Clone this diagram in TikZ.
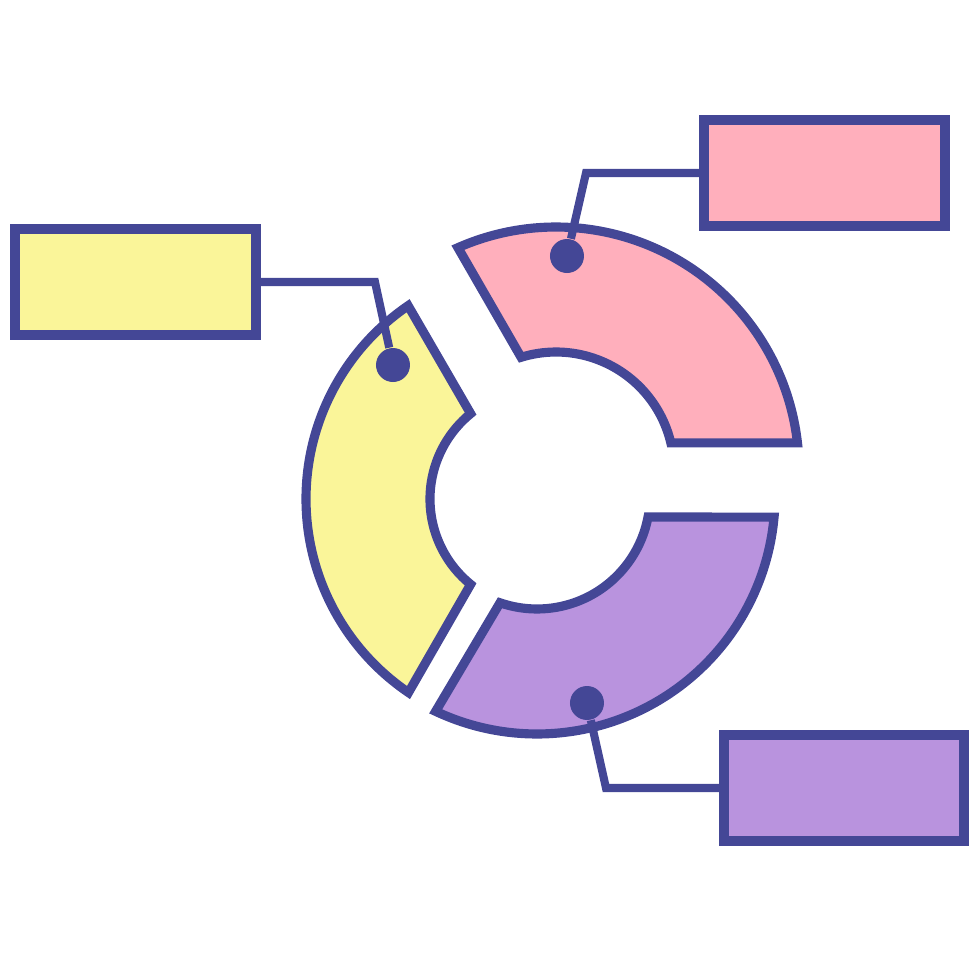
\documentclass[tikz,border=0pt]{standalone}
\definecolor{ink}{RGB}{68,71,150}
\definecolor{yellowfill}{RGB}{250,245,153}
\definecolor{pinkfill}{RGB}{255,175,188}
\definecolor{purplefill}{RGB}{185,147,222}
\tikzset{
  segment/.style={draw=ink, line width=2.6pt},
  labelbox/.style={draw=ink, line width=2.6pt, minimum width=2.41cm, minimum height=1.06cm, inner sep=0pt},
  dot/.style={circle, fill=ink, inner sep=0pt, minimum size=0.34cm},
  leader/.style={draw=ink, line width=2.3pt}
}
\begin{document}
\begin{tikzpicture}
  \useasboundingbox (0,0) rectangle (9.8,9.8);

  % centres of the three ring pieces
  \coordinate (ycen) at (5.40,4.81);
  \coordinate (pcen) at (5.56,5.10);
  \coordinate (ucen) at (5.37,4.84);

  % ring pieces
  \foreach \c/\col/\R/\r/\a/\b/\ia/\ib in {ycen/yellowfill/2.34/1.10/124.3/235.8/129.1/230.9,
                                           pcen/pinkfill/2.43/1.18/113.8/6.4/107.2/13.3,
                                           ucen/purplefill/2.38/1.13/244.8/354.9/250.9/349.3} {
    \draw[segment, fill=\col] ([shift={(\a:\R)}]\c) arc[start angle=\a, end angle=\b, radius=\R]
      -- ([shift={(\ib:\r)}]\c) arc[start angle=\ib, end angle=\ia, radius=\r] -- cycle;
  }

  % label boxes
  \node[labelbox, fill=yellowfill] (ybox) at (1.355,6.98) {};
  \node[labelbox, fill=pinkfill] (pbox) at (8.245,8.07) {};
  \node[labelbox, fill=purplefill, minimum width=2.40cm] (ubox) at (8.44,1.92) {};

  % dots on the ring
  \node[dot] (ydot) at (3.93,6.15) {};
  \node[dot] (pdot) at (5.67,7.24) {};
  \node[dot] (udot) at (5.87,2.77) {};

  \coordinate (ybend) at (3.75,6.98);
  \coordinate (pbend) at (5.86,8.07);
  \coordinate (ubend) at (6.06,1.92);

  \draw[leader] (ybox.east) -- (ybend) -- (ydot);
  \draw[leader] (pbox.west) -- (pbend) -- (pdot);
  \draw[leader] (ubox.west) -- (ubend) -- (udot);
\end{tikzpicture}
\end{document}
